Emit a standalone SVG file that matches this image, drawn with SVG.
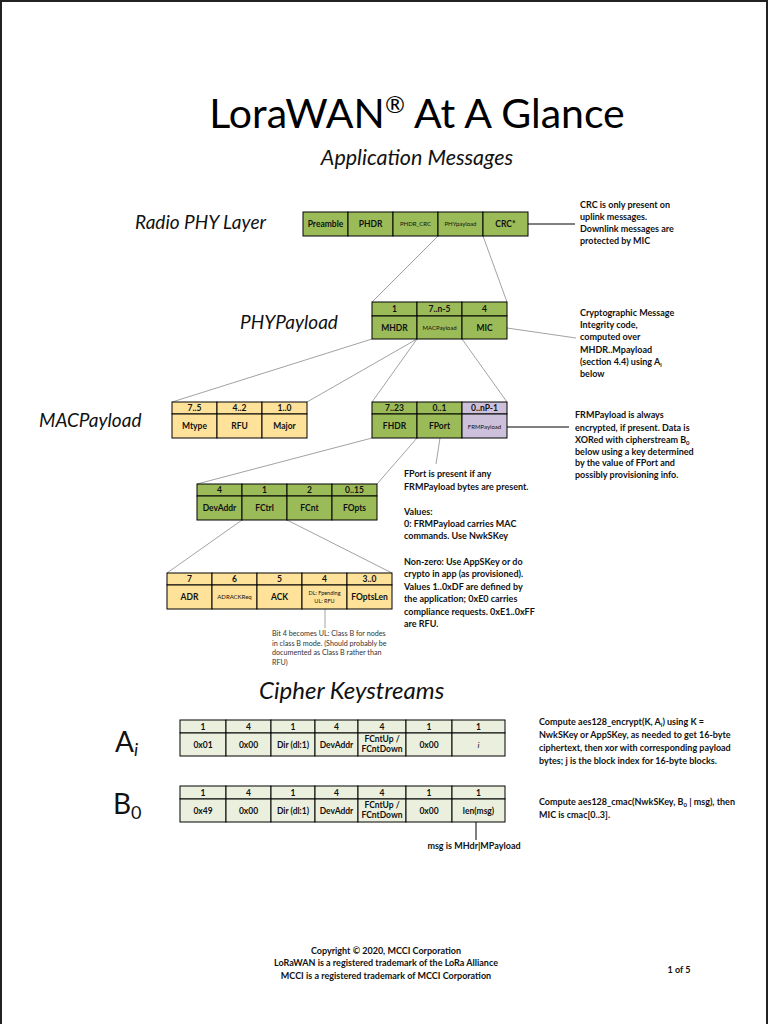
<svg xmlns="http://www.w3.org/2000/svg" width="768" height="1024" viewBox="0 0 768 1024">
<style>
text{font-family:Lato,"Open Sans","Liberation Sans",sans-serif;fill:#111}
.t{font-size:41px;font-weight:400;text-anchor:middle;fill:#000}
.h{font-size:21.5px;font-style:italic}
.lab{font-size:19px;font-style:italic}
.g{fill:#9BBB59;stroke:#000;stroke-width:1}
.y{fill:#FFE29A;stroke:#000;stroke-width:1}
.p{fill:#CCC0DA;stroke:#000;stroke-width:1}
.k{fill:#EBF0DE;stroke:#000;stroke-width:1}
.b{font-size:8.5px;font-weight:700;text-anchor:middle}
.s{font-size:6px;font-weight:400;text-anchor:middle}
.xs{font-size:5.5px;font-weight:400;text-anchor:middle}
.n{font-size:9px;font-weight:700}
.f{font-size:9px;font-weight:700;text-anchor:middle}
.m{font-size:7.2px;fill:#333}
.c{stroke:#8a8a8a;stroke-width:0.8;fill:none}
.d{stroke:#000;stroke-width:1;fill:none}
</style>
<path d="M1,1024 V1 H767 V1024" fill="none" stroke="#222" stroke-width="2"/>
<g id="titles">
<text class="t" x="417" y="128">LoraWAN<tspan style="font-size:24px" dy="-15">®</tspan><tspan dy="15"> At A Glance</tspan></text>
<text class="h" x="417" y="165" text-anchor="middle">Application Messages</text>
<text class="lab" x="135" y="229">Radio PHY Layer</text>
<text class="lab" x="240" y="329">PHYPayload</text>
<text class="lab" x="39" y="427">MACPayload</text>
<text class="h" x="259" y="699" style="font-size:24px">Cipher Keystreams</text>
<text x="115" y="752" style="font-size:28px">A<tspan style="font-size:18px;font-style:italic" dy="4">i</tspan></text>
<text x="113" y="814" style="font-size:28px">B<tspan style="font-size:18px" dy="5">0</tspan></text>
</g>
<g id="connectors">
<line class="c" x1="438" y1="236" x2="372" y2="302"/>
<line class="c" x1="483" y1="236" x2="507" y2="302"/>
<line class="d" x1="528" y1="224" x2="575" y2="224"/>
<line class="c" x1="507" y1="328" x2="576" y2="338"/>
<line class="c" x1="372" y1="339" x2="172" y2="402"/>
<line class="c" x1="417" y1="339" x2="307" y2="402"/>
<line class="c" x1="417" y1="339" x2="372" y2="402"/>
<line class="c" x1="462" y1="339" x2="507" y2="402"/>
<line class="d" x1="507" y1="427" x2="569" y2="427"/>
<line class="c" x1="372" y1="438" x2="197" y2="484"/>
<line class="c" x1="417" y1="438" x2="377" y2="484"/>
<line class="c" x1="440" y1="438" x2="436" y2="464"/>
<line class="c" x1="242" y1="520" x2="167" y2="573"/>
<line class="c" x1="287" y1="520" x2="392" y2="573"/>
<line class="c" x1="325" y1="609" x2="325" y2="628"/>
<line class="d" x1="476" y1="822" x2="476" y2="840"/>
</g>
<g id="radio-phy">
<rect class="g" x="303" y="212" width="45" height="24"/>
<rect class="g" x="348" y="212" width="45" height="24"/>
<rect class="g" x="393" y="212" width="45" height="24"/>
<rect class="g" x="438" y="212" width="45" height="24"/>
<rect class="g" x="483" y="212" width="45" height="24"/>
<text class="b" x="325.5" y="227">Preamble</text>
<text class="b" x="370.5" y="227">PHDR</text>
<text class="s" x="415.5" y="226">PHDR_CRC</text>
<text class="s" x="460.5" y="226">PHYpayload</text>
<text class="b" x="505.5" y="227">CRC*</text>
</g>
<g id="crc-note">
<text class="n" x="580" y="208">CRC is only present on</text>
<text class="n" x="580" y="220">uplink messages.</text>
<text class="n" x="580" y="232">Downlink messages are</text>
<text class="n" x="580" y="244">protected by MIC</text>
</g>
<g id="phypayload">
<rect class="g" x="372" y="302" width="45" height="14"/>
<rect class="g" x="417" y="302" width="45" height="14"/>
<rect class="g" x="462" y="302" width="45" height="14"/>
<rect class="g" x="372" y="316" width="45" height="23"/>
<rect class="g" x="417" y="316" width="45" height="23"/>
<rect class="g" x="462" y="316" width="45" height="23"/>
<text class="b" x="394.5" y="312">1</text>
<text class="b" x="439.5" y="312">7..n-5</text>
<text class="b" x="484.5" y="312">4</text>
<text class="b" x="394.5" y="330.5">MHDR</text>
<text class="s" x="439.5" y="330">MACPayload</text>
<text class="b" x="484.5" y="330.5">MIC</text>
</g>
<g id="mic-note">
<text class="n" x="580" y="316">Cryptographic Message</text>
<text class="n" x="580" y="328">Integrity code,</text>
<text class="n" x="580" y="340">computed over</text>
<text class="n" x="580" y="353">MHDR..Mpayload</text>
<text class="n" x="580" y="365">(section 4.4) using A<tspan style="font-size:6px" dy="2">i</tspan></text>
<text class="n" x="580" y="377">below</text>
</g>
<g id="mhdr">
<rect class="y" x="172" y="402" width="45" height="12"/>
<rect class="y" x="217" y="402" width="45" height="12"/>
<rect class="y" x="262" y="402" width="45" height="12"/>
<rect class="y" x="172" y="414" width="45" height="24"/>
<rect class="y" x="217" y="414" width="45" height="24"/>
<rect class="y" x="262" y="414" width="45" height="24"/>
<text class="b" x="194.5" y="411">7..5</text>
<text class="b" x="239.5" y="411">4..2</text>
<text class="b" x="284.5" y="411">1..0</text>
<text class="b" x="194.5" y="429">Mtype</text>
<text class="b" x="239.5" y="429">RFU</text>
<text class="b" x="284.5" y="429">Major</text>
</g>
<g id="macpayload">
<rect class="g" x="372" y="402" width="45" height="12"/>
<rect class="g" x="417" y="402" width="45" height="12"/>
<rect class="p" x="462" y="402" width="45" height="12"/>
<rect class="g" x="372" y="414" width="45" height="24"/>
<rect class="g" x="417" y="414" width="45" height="24"/>
<rect class="p" x="462" y="414" width="45" height="24"/>
<text class="b" x="394.5" y="411">7..23</text>
<text class="b" x="439.5" y="411">0..1</text>
<text class="b" x="484.5" y="411">0..nP-1</text>
<text class="b" x="394.5" y="429">FHDR</text>
<text class="b" x="439.5" y="429">FPort</text>
<text class="s" x="484.5" y="428.5">FRMPayload</text>
</g>
<g id="frmpayload-note">
<text class="n" x="575" y="418">FRMPayload is always</text>
<text class="n" x="575" y="431">encrypted, if present. Data is</text>
<text class="n" x="575" y="443">XORed with cipherstream B<tspan style="font-size:6px" dy="2">0</tspan></text>
<text class="n" x="575" y="455">below using a key determined</text>
<text class="n" x="575" y="466">by the value of FPort and</text>
<text class="n" x="575" y="478">possibly provisioning info.</text>
</g>
<g id="fhdr">
<rect class="g" x="197" y="484" width="45" height="12"/>
<rect class="g" x="242" y="484" width="45" height="12"/>
<rect class="g" x="287" y="484" width="45" height="12"/>
<rect class="g" x="332" y="484" width="45" height="12"/>
<rect class="g" x="197" y="496" width="45" height="24"/>
<rect class="g" x="242" y="496" width="45" height="24"/>
<rect class="g" x="287" y="496" width="45" height="24"/>
<rect class="g" x="332" y="496" width="45" height="24"/>
<text class="b" x="219.5" y="493">4</text>
<text class="b" x="264.5" y="493">1</text>
<text class="b" x="309.5" y="493">2</text>
<text class="b" x="354.5" y="493">0..15</text>
<text class="b" x="219.5" y="511">DevAddr</text>
<text class="b" x="264.5" y="511">FCtrl</text>
<text class="b" x="309.5" y="511">FCnt</text>
<text class="b" x="354.5" y="511">FOpts</text>
</g>
<g id="fport-note">
<text class="n" x="404" y="477">FPort is present if any</text>
<text class="n" x="404" y="490">FRMPayload bytes are present.</text>
<text class="n" x="404" y="515">Values:</text>
<text class="n" x="404" y="527">0: FRMPayload carries MAC</text>
<text class="n" x="404" y="539">commands. Use NwkSKey</text>
<text class="n" x="404" y="565">Non-zero: Use AppSKey or do</text>
<text class="n" x="404" y="577">crypto in app (as provisioned).</text>
<text class="n" x="404" y="590">Values 1..0xDF are defined by</text>
<text class="n" x="404" y="602">the application; 0xE0 carries</text>
<text class="n" x="404" y="615">compliance requests. 0xE1..0xFF</text>
<text class="n" x="404" y="627">are RFU.</text>
</g>
<g id="fctrl">
<rect class="y" x="167" y="573" width="45" height="12"/>
<rect class="y" x="212" y="573" width="45" height="12"/>
<rect class="y" x="257" y="573" width="45" height="12"/>
<rect class="y" x="302" y="573" width="45" height="12"/>
<rect class="y" x="347" y="573" width="45" height="12"/>
<rect class="y" x="167" y="585" width="45" height="24"/>
<rect class="y" x="212" y="585" width="45" height="24"/>
<rect class="y" x="257" y="585" width="45" height="24"/>
<rect class="y" x="302" y="585" width="45" height="24"/>
<rect class="y" x="347" y="585" width="45" height="24"/>
<text class="b" x="189.5" y="582">7</text>
<text class="b" x="234.5" y="582">6</text>
<text class="b" x="279.5" y="582">5</text>
<text class="b" x="324.5" y="582">4</text>
<text class="b" x="369.5" y="582">3..0</text>
<text class="b" x="189.5" y="600">ADR</text>
<text class="s" x="234.5" y="599">ADRACKReq</text>
<text class="b" x="279.5" y="600">ACK</text>
<text class="xs" x="324.5" y="595">DL: Fpending</text>
<text class="xs" x="324.5" y="603">UL: RFU</text>
<text class="b" x="369.5" y="600">FOptsLen</text>
</g>
<g id="bit4-note">
<text class="m" x="272" y="636">Bit 4 becomes UL: Class B for nodes</text>
<text class="m" x="272" y="646">in class B mode. (Should probably be</text>
<text class="m" x="272" y="655">documented as Class B rather than</text>
<text class="m" x="272" y="665">RFU)</text>
</g>
<g id="ai-table">
<rect class="k" x="180" y="720" width="46" height="13"/>
<rect class="k" x="226" y="720" width="45" height="13"/>
<rect class="k" x="271" y="720" width="44" height="13"/>
<rect class="k" x="315" y="720" width="43" height="13"/>
<rect class="k" x="358" y="720" width="48" height="13"/>
<rect class="k" x="406" y="720" width="46" height="13"/>
<rect class="k" x="452" y="720" width="53" height="13"/>
<rect class="k" x="180" y="733" width="46" height="23"/>
<rect class="k" x="226" y="733" width="45" height="23"/>
<rect class="k" x="271" y="733" width="44" height="23"/>
<rect class="k" x="315" y="733" width="43" height="23"/>
<rect class="k" x="358" y="733" width="48" height="23"/>
<rect class="k" x="406" y="733" width="46" height="23"/>
<rect class="k" x="452" y="733" width="53" height="23"/>
<text class="b" x="203" y="729.5">1</text>
<text class="b" x="248.5" y="729.5">4</text>
<text class="b" x="293" y="729.5">1</text>
<text class="b" x="336.5" y="729.5">4</text>
<text class="b" x="382" y="729.5">4</text>
<text class="b" x="429" y="729.5">1</text>
<text class="b" x="478.5" y="729.5">1</text>
<text class="b" x="203" y="747.5">0x01</text>
<text class="b" x="248.5" y="747.5">0x00</text>
<text class="b" x="293" y="747.5">Dir (dl:1)</text>
<text class="b" x="336.5" y="747.5">DevAddr</text>
<text class="b" x="382" y="742">FCntUp /</text>
<text class="b" x="382" y="751.5">FCntDown</text>
<text class="b" x="429" y="747.5">0x00</text>
<text class="b" x="478.5" y="747.5" style="font-style:italic;font-weight:400">i</text>
</g>
<g id="ai-note">
<text class="n" x="539" y="725">Compute aes128_encrypt(K, A<tspan style="font-size:6px" dy="2">i</tspan><tspan dy="-2">) using K =</tspan></text>
<text class="n" x="539" y="738">NwkSKey or AppSKey, as needed to get 16-byte</text>
<text class="n" x="539" y="751">ciphertext, then xor with corresponding payload</text>
<text class="n" x="539" y="764">bytes; j is the block index for 16-byte blocks.</text>
</g>
<g id="b0-table">
<rect class="k" x="180" y="786" width="46" height="13"/>
<rect class="k" x="226" y="786" width="45" height="13"/>
<rect class="k" x="271" y="786" width="44" height="13"/>
<rect class="k" x="315" y="786" width="43" height="13"/>
<rect class="k" x="358" y="786" width="48" height="13"/>
<rect class="k" x="406" y="786" width="46" height="13"/>
<rect class="k" x="452" y="786" width="53" height="13"/>
<rect class="k" x="180" y="799" width="46" height="23"/>
<rect class="k" x="226" y="799" width="45" height="23"/>
<rect class="k" x="271" y="799" width="44" height="23"/>
<rect class="k" x="315" y="799" width="43" height="23"/>
<rect class="k" x="358" y="799" width="48" height="23"/>
<rect class="k" x="406" y="799" width="46" height="23"/>
<rect class="k" x="452" y="799" width="53" height="23"/>
<text class="b" x="203" y="795.5">1</text>
<text class="b" x="248.5" y="795.5">4</text>
<text class="b" x="293" y="795.5">1</text>
<text class="b" x="336.5" y="795.5">4</text>
<text class="b" x="382" y="795.5">4</text>
<text class="b" x="429" y="795.5">1</text>
<text class="b" x="478.5" y="795.5">1</text>
<text class="b" x="203" y="813.5">0x49</text>
<text class="b" x="248.5" y="813.5">0x00</text>
<text class="b" x="293" y="813.5">Dir (dl:1)</text>
<text class="b" x="336.5" y="813.5">DevAddr</text>
<text class="b" x="382" y="808">FCntUp /</text>
<text class="b" x="382" y="817.5">FCntDown</text>
<text class="b" x="429" y="813.5">0x00</text>
<text class="b" x="478.5" y="813.5">len(msg)</text>
</g>
<g id="b0-note">
<text class="n" x="539" y="805">Compute aes128_cmac(NwkSKey, B<tspan style="font-size:6px" dy="2">0</tspan><tspan dy="-2"> | msg), then</tspan></text>
<text class="n" x="539" y="818">MIC is cmac[0..3].</text>
</g>
<g id="msg-note">
<text class="f" x="474" y="849">msg is MHdr|MPayload</text>
</g>
<g id="footer">
<text class="f" x="386" y="954">Copyright © 2020, MCCI Corporation</text>
<text class="f" x="386" y="966">LoRaWAN is a registered trademark of the LoRa Alliance</text>
<text class="f" x="386" y="979">MCCI is a registered trademark of MCCI Corporation</text>
<text class="f" x="679" y="973">1 of 5</text>
</g>
</svg>
